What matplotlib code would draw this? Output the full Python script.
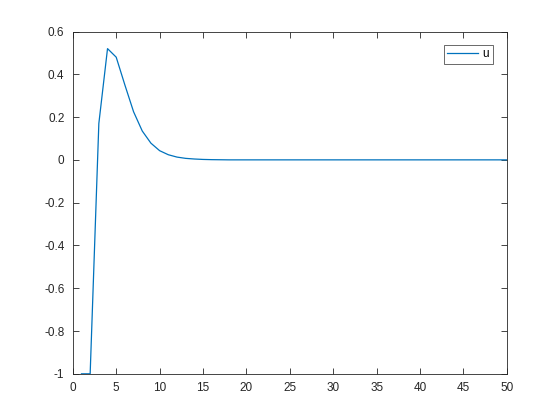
import numpy as np
import matplotlib.pyplot as plt

# sample index and control signal u
k = np.arange(1, 51)
u = [-1.0, -1.0, 0.17, 0.52, 0.48, 0.35, 0.225, 0.135, 0.078, 0.043,
     0.024, 0.013, 0.007, 0.004, 0.002, 0.001, 0.0005, 0.0, 0.0, 0.0,
     0.0, 0.0, 0.0, 0.0, 0.0, 0.0, 0.0, 0.0, 0.0, 0.0,
     0.0, 0.0, 0.0, 0.0, 0.0, 0.0, 0.0, 0.0, 0.0, 0.0,
     0.0, 0.0, 0.0, 0.0, 0.0, 0.0, 0.0, 0.0, 0.0, 0.0]

plt.rcParams['font.family'] = ['Liberation Sans', 'DejaVu Sans']

fig = plt.figure(figsize=(5.6, 4.2), dpi=100)
ax = fig.add_axes([0.13, 0.11, 0.775, 0.815])

ax.plot(k, u, color='#0072BD', linewidth=0.9, label='u')

ax.set_xlim(0, 50)
ax.set_ylim(-1, 0.6)
ax.set_xticks(np.arange(0, 51, 5))
ax.set_yticks(np.arange(-1, 0.61, 0.2))
ax.set_yticklabels(['-1', '-0.8', '-0.6', '-0.4', '-0.2', '0', '0.2', '0.4', '0.6'])

ax.tick_params(direction='in', top=True, right=True, labelsize=8.5,
               colors='#262626', length=4, width=0.6)
ax.tick_params(axis='x', pad=6)
ax.tick_params(axis='y', pad=6)
for s in ax.spines.values():
    s.set_color('#262626')
    s.set_linewidth(0.6)

leg = ax.legend(loc='upper right', bbox_to_anchor=(0.968, 0.962), borderaxespad=0,
                fontsize=8.5, fancybox=False, edgecolor='#262626', handlelength=2.6,
                borderpad=0.3, handletextpad=0.4)
leg.get_frame().set_linewidth(0.6)

fig.savefig('out.png', dpi=100)
